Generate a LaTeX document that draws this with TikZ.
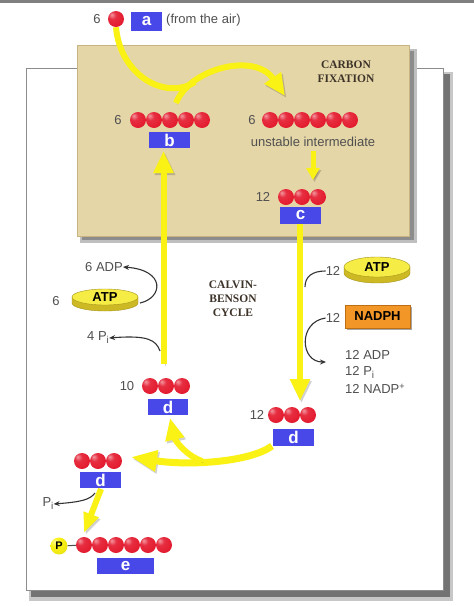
\documentclass[tikz,border=0pt]{standalone}
\usepackage{fontspec}
\setmainfont{Liberation Sans}
\newfontfamily\capfont{Liberation Serif}
\usetikzlibrary{arrows.meta,shapes.geometric}
\definecolor{fixtan}{RGB}{229,214,168}
\definecolor{fixtanedge}{RGB}{200,180,130}
\definecolor{boxblue}{RGB}{72,72,232}
\definecolor{molred}{RGB}{228,28,48}
\definecolor{yel}{RGB}{250,242,20}
\definecolor{labgray}{RGB}{80,80,80}
\definecolor{titlec}{RGB}{60,50,40}
\definecolor{atptop}{RGB}{246,236,70}
\definecolor{atprim}{RGB}{205,185,35}
\definecolor{nadph}{RGB}{242,150,40}
\definecolor{nadphedge}{RGB}{190,110,20}
\pgfdeclareradialshading{redball}{\pgfqpoint{-14bp}{14bp}}{color(0bp)=(white!55!molred); color(12bp)=(molred!92!white); color(30bp)=(molred); color(48bp)=(molred!82!black); color(64bp)=(molred!65!black)}
\pgfdeclareradialshading{yelball}{\pgfqpoint{-14bp}{14bp}}{color(0bp)=(white!50!yel); color(14bp)=(yel); color(40bp)=(yel!92!black); color(64bp)=(yel!70!black)}
\begin{document}
\begin{tikzpicture}[x=1pt,y=-1pt,
  ball/.style={circle,minimum size=16pt,inner sep=0pt,shade,shading=redball},
  lbox/.style={fill=boxblue,text=white,font=\bfseries\fontsize{17}{17}\selectfont,inner sep=0pt,minimum height=16pt},
  lab/.style={text=labgray,font=\fontsize{13}{15}\selectfont,inner sep=0pt},
  ttl/.style={text=titlec,font=\capfont\bfseries\fontsize{11.5}{14}\selectfont,align=center,inner sep=0pt},
  yflow/.style={draw=yel,line width=6pt,-{Triangle[length=22pt,width=19pt]}},
  yline/.style={draw=yel,line width=6pt},
  kflow/.style={draw=black!80,line width=1.1pt,-{Stealth[length=6pt,width=5pt]}},
  kline/.style={draw=black!80,line width=1.1pt},
  ysh/.style={preaction={draw=black,opacity=.18,transform canvas={shift={(1.5pt,-2pt)}}}},
]
\useasboundingbox (0,0) rectangle (474,606);
\fill[white] (0,0) rectangle (474,606);
\fill[black!50] (0,0) rectangle (474,3);
% card
\fill[black!22] (29,72) rectangle (453,601);
\fill[black!55] (31,74) rectangle (450,597);
\fill[white,draw=black!45,line width=.6pt] (26,68) rectangle (443,590);
% tan box
\fill[black!25] (80,49) rectangle (417,243);
\fill[black!45] (82,51) rectangle (414,240);
\fill[fixtan,draw=fixtanedge,line width=.6pt] (77,45) rectangle (409,236);
\node[ttl] (title) at (346,72) {CARBON\\FIXATION};
\node[ttl] (cycle) at (233,299) {CALVIN-\\BENSON\\CYCLE};

% top molecule a
\node[lab] (n6a) at (97,19) {6};
\node[ball] (ma) at (116,19) {};
\node[lbox,minimum width=31pt,minimum height=19pt] (a) at (146.5,21.5) {a};
\node[lab,anchor=west] (air) at (166,20) {(from the air)};

% b row
\node[lab] (n6b) at (118,120) {6};
\foreach \x [count=\i] in {138,154,...,202} \node[ball] (mb\i) at (\x,120) {};
\node[lbox,minimum width=41pt] (b) at (169.5,140) {b};

% intermediate
\node[lab] (n6i) at (252,120) {6};
\foreach \x [count=\i] in {270,286,...,350} \node[ball] (mi\i) at (\x,120) {};
\node[lab] (unst) at (313,142) {unstable intermediate};

% c row
\node[lab] (n12c) at (263,197) {12};
\foreach \x [count=\i] in {286,302,318} \node[ball] (mc\i) at (\x,197) {};
\node[lbox,minimum width=41pt,minimum height=17pt] (c) at (300.5,215.5) {c};

% d10 row
\node[lab] (n10) at (127,386) {10};
\foreach \x [count=\i] in {150,166,182} \node[ball] (md\i) at (\x,386) {};
\node[lbox,minimum width=40pt] (d1) at (168,407) {d};

% d12 row
\node[lab] (n12d) at (257,415) {12};
\foreach \x [count=\i] in {276,292,308} \node[ball] (me\i) at (\x,415) {};
\node[lbox,minimum width=41pt,minimum height=17pt] (d2) at (293.5,437.5) {d};

% left d row
\foreach \x [count=\i] in {82,98,114} \node[ball] (mf\i) at (\x,461) {};
\node[lbox,minimum width=41pt] (d3) at (100.5,480) {d};

% e row
\foreach \x [count=\i] in {84,100,...,164} \node[ball] (mg\i) at (\x,545) {};
\node[lbox,minimum width=57pt] (e) at (125.5,566) {e};
\node[circle,minimum size=17pt,inner sep=0pt,shade,shading=yelball,font=\bfseries\fontsize{11}{11}\selectfont] (P) at (59,546) {P};
\draw[black!70,line width=1pt] (P) -- (mg1);

% ---- yellow flows ----
\coordinate (arcL) at (176,103);
\coordinate (arcT) at (285,96);
\coordinate (joinA) at (195,82);
\draw[yflow,ysh] (arcL) .. controls (190,68) and (255,52) .. (arcT);
\draw[yline,ysh] (ma.south) .. controls (120,75) and (165,101) .. (joinA);
\coordinate (smTop) at (313,151);
\coordinate (smTip) at (313,180);
\draw[yel,line width=5pt,-{Triangle[length=12pt,width=13pt]},ysh] (smTop) -- (smTip);
\coordinate (upBot) at (163.5,364);
\coordinate (upTip) at (163.5,151);
\draw[yflow,ysh] (upBot) -- (upTip);
\coordinate (dnTop) at (300,224);
\coordinate (dnTip) at (300,401);
\draw[yflow,ysh] (dnTop) -- (dnTip);
\coordinate (bigStart) at (272,446);
\coordinate (bigTip) at (131,457);
\coordinate (splitB) at (202,461);
\coordinate (upTip2) at (170,418);
\draw[yel,line width=7pt,-{Triangle[length=26pt,width=20pt]},ysh] (bigStart) .. controls (250,462) and (190,466) .. (bigTip);
\draw[yel,line width=6pt,-{Triangle[length=22pt,width=18pt]},ysh] (splitB) .. controls (185,455) and (175,440) .. (upTip2);
\coordinate (dlTop) at (101,489);
\coordinate (dlTip) at (84,533);
\draw[yel,line width=6pt,-{Triangle[length=20pt,width=15pt]},ysh] (dlTop) -- (dlTip);

% ---- left cofactors ----
\node[lab,anchor=east] (adp6) at (123,267) {6 ADP};
\node[lab] (n6atp) at (56,301) {6};
\fill[atprim,draw=atprim!80!black,line width=.4pt] (72,297) -- (72,303) arc[start angle=180,end angle=360,x radius=33pt,y radius=8pt] -- (138,297) -- cycle;
\fill[atptop,draw=atprim!80!black,line width=.4pt] (105,297) ellipse [x radius=33pt,y radius=8pt];
\node[font=\bfseries\fontsize{13}{13}\selectfont] (atpL) at (105,297) {ATP};
\node[lab,anchor=west] (pi4) at (87,338) {4 P\raisebox{-3pt}{\fontsize{10}{10}\selectfont i}};
\coordinate (atpLout) at (140,303);
\coordinate (piSrc) at (160,351);
\draw[kflow] (atpLout) .. controls (163,298) and (166,270) .. (adp6.east);
\draw[kflow] (piSrc) .. controls (156,340) and (148,335) .. (pi4.east);

% ---- right cofactors ----
\node[lab] (n12atp) at (333,271) {12};
\fill[atprim,draw=atprim!80!black,line width=.4pt] (344,267) -- (344,273) arc[start angle=180,end angle=360,x radius=33pt,y radius=10pt] -- (410,267) -- cycle;
\fill[atptop,draw=atprim!80!black,line width=.4pt] (377,267) ellipse [x radius=33pt,y radius=10pt];
\node[font=\bfseries\fontsize{13}{13}\selectfont] (atpR) at (377,267) {ATP};
\coordinate (atpRin) at (305,287);
\draw[kline] (atpRin) .. controls (305,276) and (313,271) .. (n12atp.west);
\node[lab] (n12n) at (333,318) {12};
\fill[black!35] (347,307) rectangle (412,330);
\node[fill=nadph,draw=nadphedge,line width=.8pt,minimum width=65pt,minimum height=23pt,inner sep=0pt,font=\bfseries\fontsize{13}{13}\selectfont] (nadph) at (377.5,316.5) {NADPH};
\node[lab,anchor=west] (p1) at (345,355) {12 ADP};
\node[lab,anchor=west] (p2) at (345,372) {12 P\raisebox{-3pt}{\fontsize{10}{10}\selectfont i}};
\node[lab,anchor=west] (p3) at (345,389) {12 NADP\textsuperscript{+}};
\coordinate (prodIn) at (326,362);
\draw[kflow] (n12n.west) .. controls (298,322) and (300,362) .. (prodIn);

% ---- bottom Pi ----
\node[lab] (pib) at (48,504) {P\raisebox{-3pt}{\fontsize{10}{10}\selectfont i}};
\coordinate (pibSrc) at (95,493);
\draw[kflow] (pibSrc) .. controls (90,500) and (80,502) .. (pib.east);
\end{tikzpicture}
\end{document}
